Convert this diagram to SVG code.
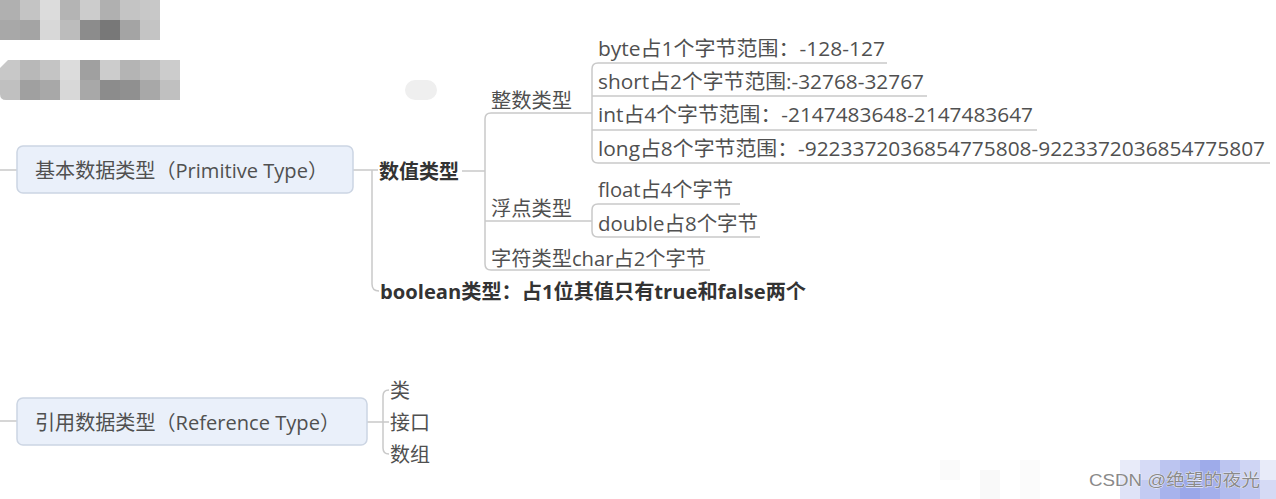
<svg xmlns="http://www.w3.org/2000/svg" width="1276" height="499" viewBox="0 0 1276 499">
<style>
.t{font-family:"Open Sans","Noto Sans CJK SC",sans-serif;font-size:20px;fill:#505050}
.b{font-family:"Open Sans","Noto Sans CJK SC",sans-serif;font-size:20px;font-weight:bold;fill:#333}
.box{fill:#eaf0fa;stroke:#ccd5e3;stroke-width:1.5}
.c{fill:none;stroke:#c9c9c9;stroke-width:1.5}
.wm{font-family:"Liberation Sans","Noto Sans CJK SC",sans-serif;font-size:17px;fill:#8a8a8a}
</style>
<rect width="1276" height="499" fill="#ffffff"/>
<g id="mosaic">
<rect x="0" y="0" width="20" height="20" fill="#b0b0b0"/><rect x="20" y="0" width="20" height="20" fill="#c4c4c4"/><rect x="40" y="0" width="20" height="20" fill="#dcdcdc"/><rect x="60" y="0" width="20" height="20" fill="#b4b4b4"/><rect x="80" y="0" width="20" height="20" fill="#cccccc"/><rect x="100" y="0" width="20" height="20" fill="#b0b0b0"/><rect x="120" y="0" width="20" height="20" fill="#c4c4c4"/><rect x="140" y="0" width="20" height="20" fill="#c8c8c8"/>
<rect x="0" y="20" width="20" height="20" fill="#a8a8a8"/><rect x="20" y="20" width="20" height="20" fill="#a4a4a4"/><rect x="40" y="20" width="20" height="20" fill="#d8d8d8"/><rect x="60" y="20" width="20" height="20" fill="#bcbcbc"/><rect x="80" y="20" width="20" height="20" fill="#8c8c8c"/><rect x="100" y="20" width="20" height="20" fill="#787878"/><rect x="120" y="20" width="20" height="20" fill="#a4a4a4"/><rect x="140" y="20" width="20" height="20" fill="#c4c4c4"/>
<path d="M8 60 H20 V80 H0 V68 Z" fill="#c8c8c8"/><rect x="20" y="60" width="20" height="20" fill="#b8b8b8"/><rect x="40" y="60" width="20" height="20" fill="#c4c4c4"/><rect x="60" y="60" width="20" height="20" fill="#dcdcdc"/><rect x="80" y="60" width="20" height="20" fill="#a0a0a0"/><rect x="100" y="60" width="20" height="20" fill="#cccccc"/><rect x="120" y="60" width="20" height="20" fill="#b4b4b4"/><rect x="140" y="60" width="20" height="20" fill="#bcbcbc"/><rect x="160" y="60" width="20" height="20" fill="#cccccc"/>
<path d="M0 80 H20 V100 H6 Q0 100 0 94 Z" fill="#c0c0c0"/><rect x="20" y="80" width="20" height="20" fill="#a0a0a0"/><rect x="40" y="80" width="20" height="20" fill="#a8a8a8"/><rect x="60" y="80" width="20" height="20" fill="#d8d8d8"/><rect x="80" y="80" width="20" height="20" fill="#a8a8a8"/><rect x="100" y="80" width="20" height="20" fill="#8c8c8c"/><rect x="120" y="80" width="20" height="20" fill="#909090"/><rect x="140" y="80" width="20" height="20" fill="#a8a8a8"/><rect x="160" y="80" width="20" height="20" fill="#c0c0c0"/>
<rect x="405" y="80" width="32" height="20" rx="10" fill="#efefef"/>
</g>
<g id="connectors">
<path class="c" d="M0 170 H17"/>
<path class="c" d="M353 170 H378"/>
<path class="c" d="M372 170 V284 Q372 291 379 291"/>
<path class="c" d="M462 171 H485"/>
<path class="c" d="M592 113 H491 Q485 113 485 119 V264 Q485 270 491 270 H710"/>
<path class="c" d="M485 221 H592"/>
<path class="c" d="M887 63 H598 Q592 63 592 69 V157 Q592 163 598 163 H1270"/>
<path class="c" d="M592 96 H927"/>
<path class="c" d="M592 130 H1037"/>
<path class="c" d="M740 204 H598 Q592 204 592 210 V231 Q592 237 598 237 H760"/>
<path class="c" d="M0 421 H17"/>
<path class="c" d="M367 422 H389"/>
<path class="c" d="M389 390 Q383 390 383 396 V448 Q383 454 389 454"/>
</g>
<g id="primitive">
<rect class="box" x="17" y="146" width="336" height="47" rx="6"/>
<text class="t" x="35" y="178" textLength="293" lengthAdjust="spacingAndGlyphs">基本数据类型（Primitive Type）</text>
</g>
<g id="numeric"><text class="b" x="379" y="179" textLength="80" lengthAdjust="spacingAndGlyphs">数值类型</text></g>
<g id="integer"><text class="t" x="491" y="108" textLength="81" lengthAdjust="spacingAndGlyphs">整数类型</text></g>
<g id="byte"><text class="t" x="598" y="56" textLength="287" lengthAdjust="spacingAndGlyphs">byte占1个字节范围：-128-127</text></g>
<g id="short"><text class="t" x="598" y="89" textLength="326" lengthAdjust="spacingAndGlyphs">short占2个字节范围:-32768-32767</text></g>
<g id="int"><text class="t" x="598" y="122" textLength="435" lengthAdjust="spacingAndGlyphs">int占4个字节范围：-2147483648-2147483647</text></g>
<g id="long"><text class="t" x="598" y="156" textLength="667" lengthAdjust="spacingAndGlyphs">long占8个字节范围：-9223372036854775808-9223372036854775807</text></g>
<g id="floating"><text class="t" x="491" y="216" textLength="81" lengthAdjust="spacingAndGlyphs">浮点类型</text></g>
<g id="float"><text class="t" x="598" y="197" textLength="135" lengthAdjust="spacingAndGlyphs">float占4个字节</text></g>
<g id="double"><text class="t" x="598" y="231" textLength="160" lengthAdjust="spacingAndGlyphs">double占8个字节</text></g>
<g id="char"><text class="t" x="491" y="266" textLength="215" lengthAdjust="spacingAndGlyphs">字符类型char占2个字节</text></g>
<g id="boolean"><text class="b" x="380" y="299" textLength="426" lengthAdjust="spacingAndGlyphs">boolean类型：占1位其值只有true和false两个</text></g>
<g id="reference">
<rect class="box" x="17" y="398" width="350" height="47" rx="6"/>
<text class="t" x="35" y="430" textLength="305" lengthAdjust="spacingAndGlyphs">引用数据类型（Reference Type）</text>
</g>
<g id="class"><text class="t" x="390" y="398">类</text></g>
<g id="interface"><text class="t" x="390" y="430">接口</text></g>
<g id="array"><text class="t" x="390" y="462">数组</text></g>
<g id="watermark">
<rect x="940" y="460" width="20" height="20" fill="#fafafa"/><rect x="980" y="470" width="20" height="29" fill="#f9f9f9"/><rect x="1020" y="460" width="20" height="39" fill="#fbfbfb"/>
<rect x="1120" y="460" width="20" height="20" fill="#e8ebf9"/><rect x="1140" y="460" width="20" height="20" fill="#d6dbf6"/><rect x="1160" y="460" width="20" height="20" fill="#bcc5f0"/><rect x="1180" y="460" width="20" height="20" fill="#aeb9ee"/><rect x="1200" y="460" width="20" height="20" fill="#9eabea"/><rect x="1220" y="460" width="20" height="20" fill="#bcc5f0"/><rect x="1240" y="460" width="20" height="20" fill="#cfd5f4"/><rect x="1260" y="460" width="16" height="20" fill="#e8ebf9"/>
<rect x="1120" y="480" width="20" height="19" fill="#dfe3f7"/><rect x="1140" y="480" width="20" height="19" fill="#c3cbf2"/><rect x="1160" y="480" width="20" height="19" fill="#a8b3ec"/><rect x="1180" y="480" width="20" height="19" fill="#9aa7e9"/><rect x="1200" y="480" width="20" height="19" fill="#a4afeb"/><rect x="1220" y="480" width="20" height="19" fill="#b2bcee"/><rect x="1240" y="480" width="20" height="19" fill="#bec6f1"/><rect x="1260" y="480" width="16" height="19" fill="#d5daf5"/>
<text class="wm" x="1089" y="486" textLength="171" lengthAdjust="spacingAndGlyphs" stroke="#ffffff" stroke-width="0.6" paint-order="stroke">CSDN @绝望的夜光</text>
</g>
</svg>
